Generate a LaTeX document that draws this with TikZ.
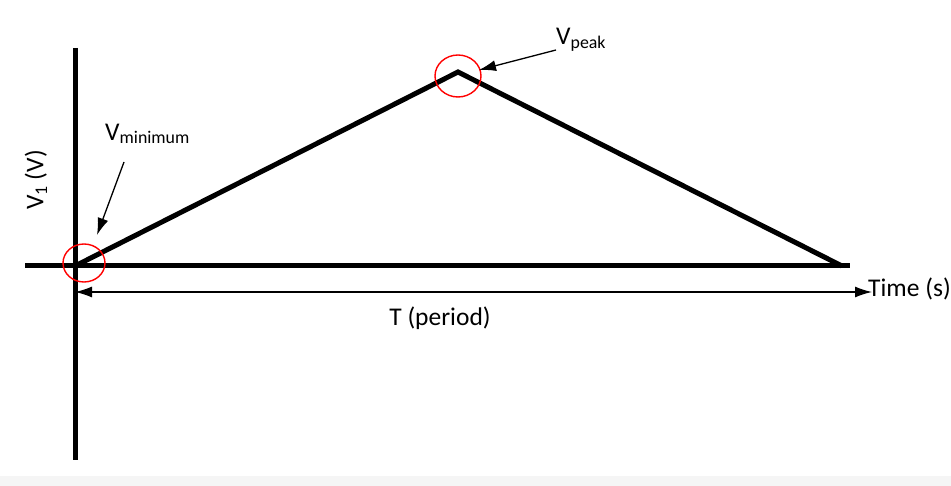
\documentclass[tikz,border=0pt]{standalone}
\usepackage{fontspec}
\setmainfont{Carlito}
\usetikzlibrary{arrows.meta}
\begin{document}
\begin{tikzpicture}[x=1pt,y=-1pt,
  thick line/.style={line width=5pt},
  callout/.style={draw=red,line width=1.4pt},
  lbl/.style={font=\fontsize{25.5}{28}\selectfont,inner sep=0pt},
  ptr/.style={line width=1.3pt,-{Latex[length=17pt,width=11pt]}}]
\useasboundingbox (0,0) rectangle (951,486);
\fill[gray!8] (0,476) rectangle (951,486);
\coordinate (ytop) at (75,48); \coordinate (ybot) at (75,460);
\coordinate (xl) at (25,266); \coordinate (xr) at (850,266);
\coordinate (o) at (75,266); \coordinate (pk) at (458,72); \coordinate (end) at (842,266);
\draw[thick line] (ytop) -- (ybot);
\draw[thick line] (xl) -- (xr);
\draw[thick line,line join=miter] (o) -- (pk) -- (end);
\draw[callout] (84,263) ellipse (21 and 19);
\draw[callout] (458,76) ellipse (23 and 21);
\node[lbl,anchor=west] (vpk) at (556,40) {V\textsubscript{peak}};
\draw[ptr] (556,50) coordinate (a1) -- (479,70);
\node[lbl,anchor=west] (vmin) at (105,134) {V\textsubscript{minimum}};
\draw[ptr] (124,162) coordinate (a2) -- (97,235);
\node[lbl,rotate=90] (vy) at (36,180) {V\textsubscript{1} (V)};
\coordinate (ts) at (75,292); \coordinate (te) at (872,292);
\draw[line width=1.3pt,{Latex[length=17pt,width=11pt]}-{Latex[length=17pt,width=11pt]}] (ts) -- (te);
\node[lbl] (tp) at (440,318) {T (period)};
\node[lbl,anchor=west] (tm) at (868,289) {Time (s)};
\end{tikzpicture}
\end{document}
